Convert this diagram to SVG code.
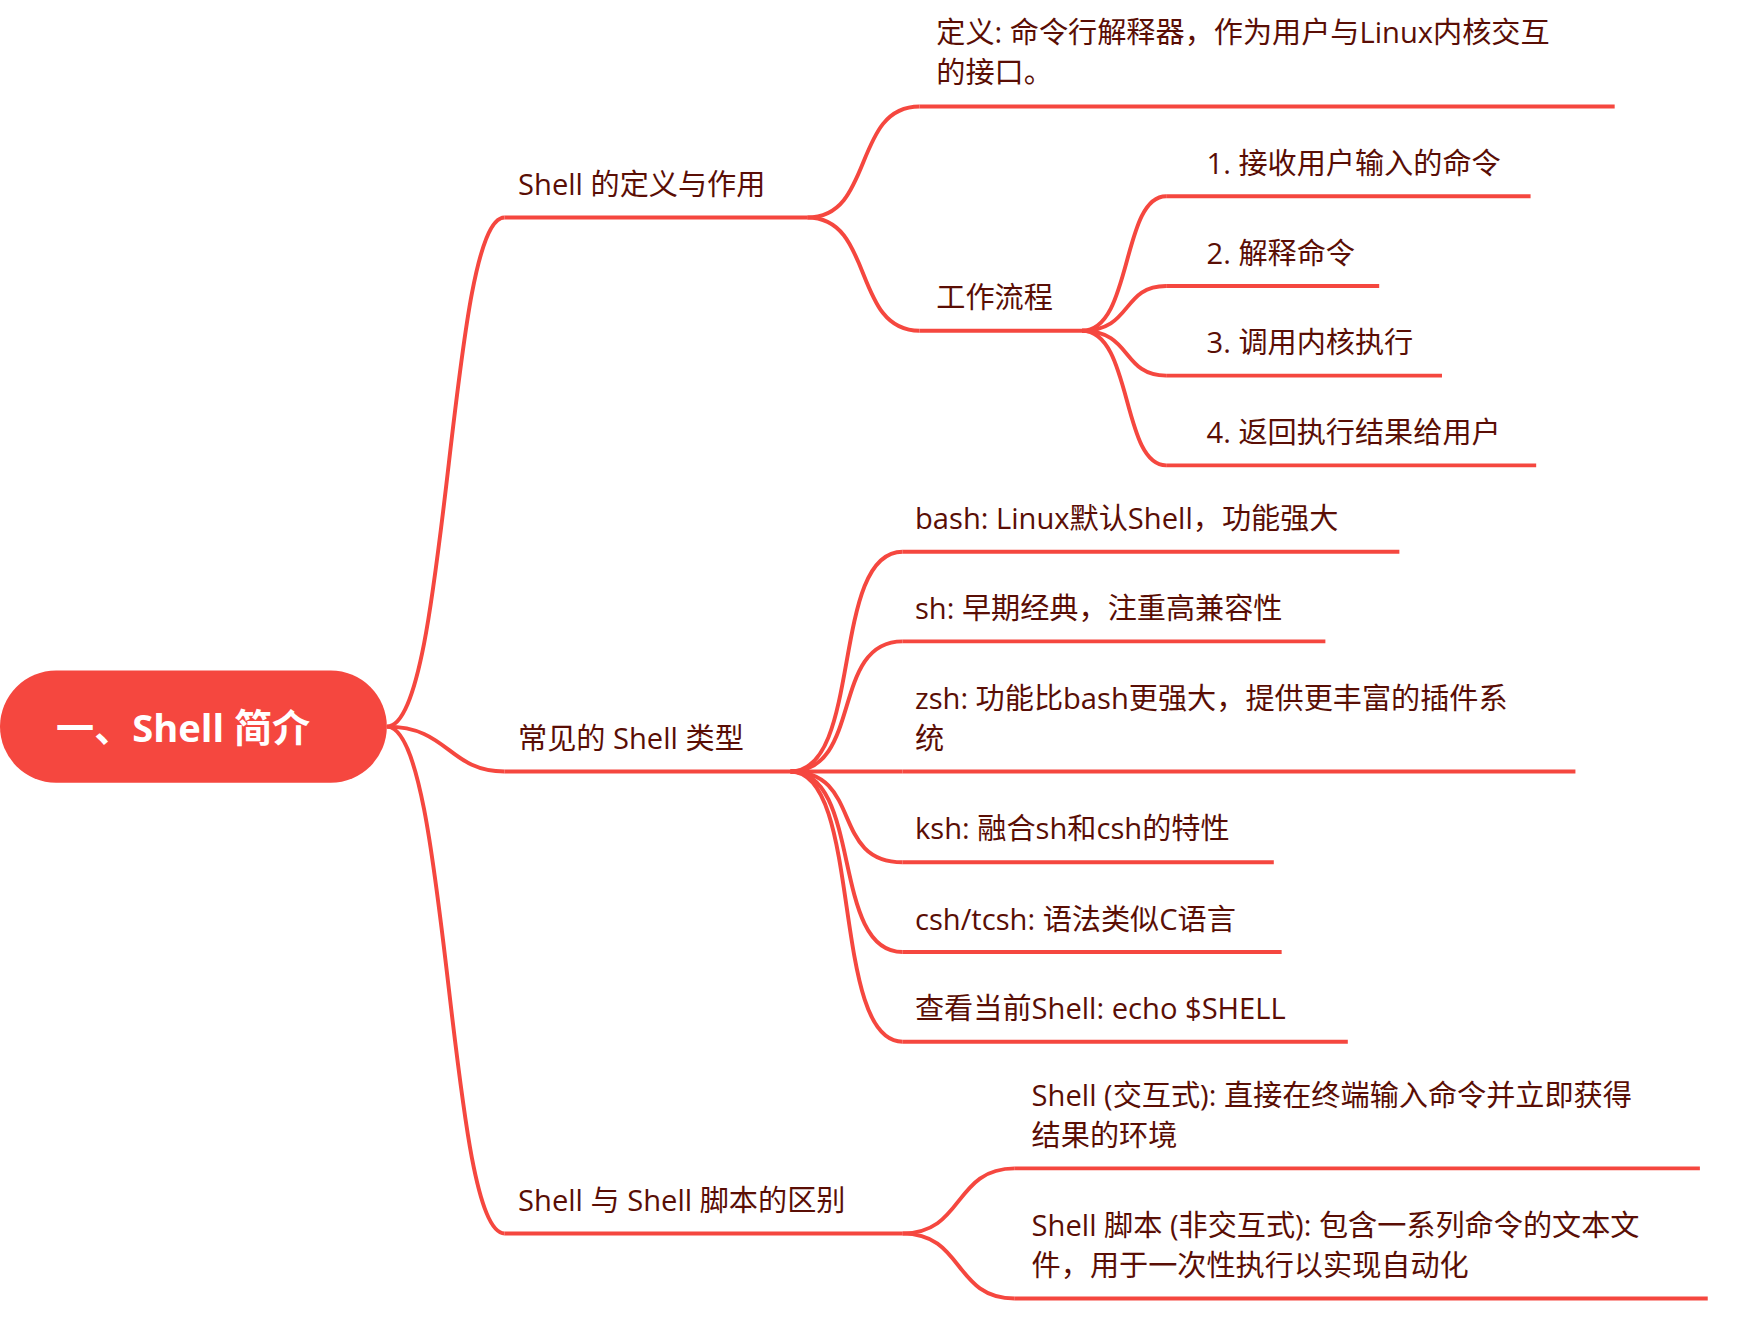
<svg xmlns="http://www.w3.org/2000/svg" width="1757" height="1319" viewBox="0 0 1757 1319">
<style>
.t{font-family:"Open Sans","Noto Sans CJK SC",sans-serif;font-size:26px;fill:#5a0e05}
.r{font-family:"Open Sans","Noto Sans CJK SC",sans-serif;font-size:34px;font-weight:bold;fill:#fff}
.c path,.l{stroke:#F5473F;stroke-width:3.5;fill:none}
</style>
<rect width="1757" height="1319" fill="#fff"/>
<g transform="scale(1.1213)">
<g class="c">
<path d="M345 648 C400 648,400 194,450 194"/>
<path d="M345 648 C400 648,400 688,450 688"/>
<path d="M345 648 C400 648,400 1100,450 1100"/>
<path d="M720 194 C780 194,760 95,820 95"/>
<path d="M720 194 C780 194,760 295,820 295"/>
<path d="M965 295 C1010 295,1000 175,1040 175"/>
<path d="M965 295 C1010 295,1000 255,1040 255"/>
<path d="M965 295 C1010 295,1000 335,1040 335"/>
<path d="M965 295 C1010 295,1000 415,1040 415"/>
<path d="M705 688 C770 688,740 492,805 492"/>
<path d="M705 688 C770 688,740 572,805 572"/>
<path d="M705 688 L805 688"/>
<path d="M705 688 C770 688,740 769,805 769"/>
<path d="M705 688 C770 688,740 849,805 849"/>
<path d="M705 688 C770 688,740 929,805 929"/>
<path d="M805 1100 C860 1100,850 1042,905 1042"/>
<path d="M805 1100 C860 1100,850 1158,905 1158"/>
</g>
<g id="root"><rect x="0" y="598" width="345" height="100" rx="50" fill="#F5473F"/><text class="r" x="50" y="662">一、Shell 简介</text></g>
<g id="n1"><line class="l" x1="450" y1="194" x2="720" y2="194"/><text class="t" x="462" y="174">Shell 的定义与作用</text></g>
<g id="n2"><line class="l" x1="450" y1="688" x2="705" y2="688"/><text class="t" x="462" y="668">常见的 Shell 类型</text></g>
<g id="n3"><line class="l" x1="450" y1="1100" x2="805" y2="1100"/><text class="t" x="462" y="1080">Shell 与 Shell 脚本的区别</text></g>
<g id="n11"><line class="l" x1="820" y1="95" x2="1440" y2="95"/><text class="t" x="835" y="38">定义: 命令行解释器，作为用户与Linux内核交互</text><text class="t" x="835" y="74">的接口。</text></g>
<g id="n12"><line class="l" x1="820" y1="295" x2="965" y2="295"/><text class="t" x="835" y="275">工作流程</text></g>
<g id="n121"><line class="l" x1="1040" y1="175" x2="1365" y2="175"/><text class="t" x="1076" y="155">1. 接收用户输入的命令</text></g>
<g id="n122"><line class="l" x1="1040" y1="255" x2="1230" y2="255"/><text class="t" x="1076" y="235">2. 解释命令</text></g>
<g id="n123"><line class="l" x1="1040" y1="335" x2="1286" y2="335"/><text class="t" x="1076" y="315">3. 调用内核执行</text></g>
<g id="n124"><line class="l" x1="1040" y1="415" x2="1370" y2="415"/><text class="t" x="1076" y="395">4. 返回执行结果给用户</text></g>
<g id="n21"><line class="l" x1="805" y1="492" x2="1248" y2="492"/><text class="t" x="816" y="472">bash: Linux默认Shell，功能强大</text></g>
<g id="n22"><line class="l" x1="805" y1="572" x2="1182" y2="572"/><text class="t" x="816" y="552">sh: 早期经典，注重高兼容性</text></g>
<g id="n23"><line class="l" x1="805" y1="688" x2="1405" y2="688"/><text class="t" x="816" y="632">zsh: 功能比bash更强大，提供更丰富的插件系</text><text class="t" x="816" y="668">统</text></g>
<g id="n24"><line class="l" x1="805" y1="769" x2="1136" y2="769"/><text class="t" x="816" y="748">ksh: 融合sh和csh的特性</text></g>
<g id="n25"><line class="l" x1="805" y1="849" x2="1143" y2="849"/><text class="t" x="816" y="829">csh/tcsh: 语法类似C语言</text></g>
<g id="n26"><line class="l" x1="805" y1="929" x2="1202" y2="929"/><text class="t" x="816" y="909">查看当前Shell: echo $SHELL</text></g>
<g id="n31"><line class="l" x1="905" y1="1042" x2="1516" y2="1042"/><text class="t" x="920" y="986">Shell (交互式): 直接在终端输入命令并立即获得</text><text class="t" x="920" y="1022">结果的环境</text></g>
<g id="n32"><line class="l" x1="905" y1="1158" x2="1523" y2="1158"/><text class="t" x="920" y="1102">Shell 脚本 (非交互式): 包含一系列命令的文本文</text><text class="t" x="920" y="1138">件，用于一次性执行以实现自动化</text></g>
</g>
</svg>
